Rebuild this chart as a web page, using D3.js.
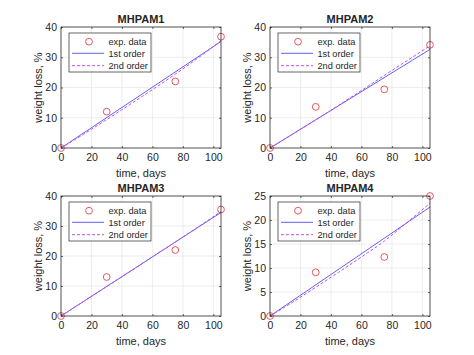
<!DOCTYPE html>
<html>
<head>
<meta charset="utf-8">
<script src="https://cdn.jsdelivr.net/npm/d3@7"></script>
<style>
  html, body { margin: 0; padding: 0; background: #fff; }
  svg { display: block; }
  text { font-family: "Liberation Sans", Arial, Helvetica, sans-serif; fill: #262626; }
</style>
</head>
<body>
<svg id="chart" width="474" height="355"></svg>
<script>
// ---- data ----
const titles = ["MHPAM1", "MHPAM2", "MHPAM3", "MHPAM4"];
const expTime = [0, 30, 75, 105];
const exp1 = [0, 12.0, 22.0, 36.8];
const exp2 = [0, 13.6, 19.4, 34.1];
const exp3 = [0, 13.0, 22.0, 35.5];
const exp4 = [0, 9.1, 12.3, 25.0];

const firstTime = [0, 105];
const first1 = [0, 35.2];
const first2 = [0, 32.6];
const first3 = [0, 34.5];
const first4 = [0, 22.7];

const secondTime = [0, 15, 30, 45, 60, 75, 90, 105];
const second1 = [0, 4.6, 9.4, 14.3, 19.3, 24.4, 29.8, 35.5];
const second2 = [0, 4.6, 9.3, 14.1, 19.0, 24.0, 28.9, 33.8];
const second3 = [0, 4.9, 9.8, 14.7, 19.7, 24.7, 29.7, 34.8];
const second4 = [0, 2.9, 6.0, 9.1, 12.3, 15.6, 19.5, 23.5];

const xTicks = [0, 20, 40, 60, 80, 100];
const yTicks40 = [0, 10, 20, 30, 40];
const yTicks25 = [0, 5, 10, 15, 20, 25];
const yMax = [40, 40, 40, 25];
const legendLabels = ["exp. data", "1st order", "2nd order"];
const xLabel = "time, days";
const yLabel = "weight loss, %";

const expAll = [exp1, exp2, exp3, exp4];
const firstAll = [first1, first2, first3, first4];
const secondAll = [second1, second2, second3, second4];
const yTicksAll = [yTicks40, yTicks40, yTicks40, yTicks25];

// ---- layout ----
const panels = [
  { left: 61, top: 27, w: 160, h: 121 },
  { left: 270, top: 27, w: 160, h: 121 },
  { left: 61, top: 196, w: 160, h: 120 },
  { left: 270, top: 196, w: 160, h: 120 }
];

const colExp = "#e0474f";
const colFirst = "#6262ee";
const colSecond = "#c24fe8";
const axisCol = "#262626";
const FONT = '"Liberation Sans", Arial, Helvetica, sans-serif';

const svg = d3.select("#chart");

panels.forEach((p, i) => {
  const g = svg.append("g").attr("transform", `translate(${p.left},${p.top})`);
  const x = d3.scaleLinear().domain([0, 105]).range([0, p.w]);
  const y = d3.scaleLinear().domain([0, yMax[i]]).range([p.h, 0]);
  const yt = yTicksAll[i];

  g.append("rect").attr("width", p.w).attr("height", p.h).attr("fill", "#fff");

  // grid
  g.append("g").selectAll("line").data(xTicks.filter(d => d > 0)).join("line")
    .attr("x1", d => x(d)).attr("x2", d => x(d)).attr("y1", 0).attr("y2", p.h)
    .attr("stroke", "#e8e8e8").attr("stroke-width", 0.8);
  g.append("g").selectAll("line").data(yt.filter(d => d > 0 && d < yMax[i])).join("line")
    .attr("x1", 0).attr("x2", p.w).attr("y1", d => y(d)).attr("y2", d => y(d))
    .attr("stroke", "#e8e8e8").attr("stroke-width", 0.8);

  const clipId = "clip" + i;
  g.append("clipPath").attr("id", clipId).append("rect")
    .attr("x", -4).attr("y", -4).attr("width", p.w + 8).attr("height", p.h + 8);
  const plot = g.append("g").attr("clip-path", `url(#${clipId})`);

  const lineGen = d3.line().x(d => x(d[0])).y(d => y(d[1]));
  plot.append("path")
    .datum(firstTime.map((t, k) => [t, firstAll[i][k]]))
    .attr("d", lineGen).attr("fill", "none")
    .attr("stroke", colFirst).attr("stroke-width", 1);

  plot.append("path")
    .datum(secondTime.map((t, k) => [t, secondAll[i][k]]))
    .attr("d", d3.line().curve(d3.curveMonotoneX).x(d => x(d[0])).y(d => y(d[1])))
    .attr("fill", "none")
    .attr("stroke", colSecond).attr("stroke-width", 1).attr("stroke-dasharray", "3,2");

  plot.selectAll("circle").data(expTime.map((t, k) => [t, expAll[i][k]])).join("circle")
    .attr("cx", d => x(d[0])).attr("cy", d => y(d[1])).attr("r", 3.4)
    .attr("fill", "none").attr("stroke", colExp).attr("stroke-width", 0.9);

  const xAxis = d3.axisBottom(x).tickValues(xTicks).tickSize(-2).tickPadding(6).tickFormat(d3.format("d"));
  const xAxisTop = d3.axisTop(x).tickValues(xTicks).tickSize(-2).tickFormat("");
  const yAxis = d3.axisLeft(y).tickValues(yt).tickSize(-2).tickPadding(4).tickFormat(d3.format("d"));
  const yAxisRight = d3.axisRight(y).tickValues(yt).tickSize(-2).tickFormat("");

  const styleAxis = sel => {
    sel.attr("font-family", FONT);
    sel.select(".domain").remove();
    sel.selectAll(".tick line").attr("stroke", axisCol).attr("stroke-width", 0.7);
    sel.selectAll(".tick text").attr("fill", axisCol).style("font-size", "10.5px")
      .style("font-family", FONT);
  };
  g.append("g").attr("transform", `translate(0,${p.h})`).call(xAxis).call(styleAxis);
  g.append("g").call(xAxisTop).call(styleAxis);
  g.append("g").call(yAxis).call(styleAxis);
  g.append("g").attr("transform", `translate(${p.w},0)`).call(yAxisRight).call(styleAxis);

  g.append("rect").attr("width", p.w).attr("height", p.h)
    .attr("fill", "none").attr("stroke", axisCol).attr("stroke-width", 0.8);

  g.append("text").attr("x", p.w / 2).attr("y", -4.5).attr("text-anchor", "middle")
    .style("font-size", "11px").style("font-weight", "bold").attr("fill", "#000").text(titles[i]);

  g.append("text").attr("x", p.w / 2).attr("y", p.h + 28.5).attr("text-anchor", "middle")
    .style("font-size", "11px").text(xLabel);
  g.append("text").attr("transform", `translate(-19.5,${p.h / 2}) rotate(-90)`)
    .attr("text-anchor", "middle").style("font-size", "11px").text(yLabel);

  // legend
  const lg = g.append("g").attr("transform", "translate(8,6)");
  lg.append("rect").attr("width", 82).attr("height", 39)
    .attr("fill", "#fff").attr("stroke", axisCol).attr("stroke-width", 0.7);
  const rows = [8.7, 20.3, 32.7];
  lg.append("circle").attr("cx", 20).attr("cy", rows[0]).attr("r", 3.4)
    .attr("fill", "none").attr("stroke", colExp).attr("stroke-width", 0.9);
  lg.append("line").attr("x1", 3).attr("x2", 35).attr("y1", rows[1]).attr("y2", rows[1])
    .attr("stroke", colFirst).attr("stroke-width", 1);
  lg.append("line").attr("x1", 3).attr("x2", 35).attr("y1", rows[2]).attr("y2", rows[2])
    .attr("stroke", colSecond).attr("stroke-width", 1).attr("stroke-dasharray", "3,2");
  legendLabels.forEach((t, k) => {
    lg.append("text").attr("x", 39.5).attr("y", rows[k] + 3.3)
      .style("font-size", "9.2px").text(t);
  });
});
</script>
</body>
</html>
